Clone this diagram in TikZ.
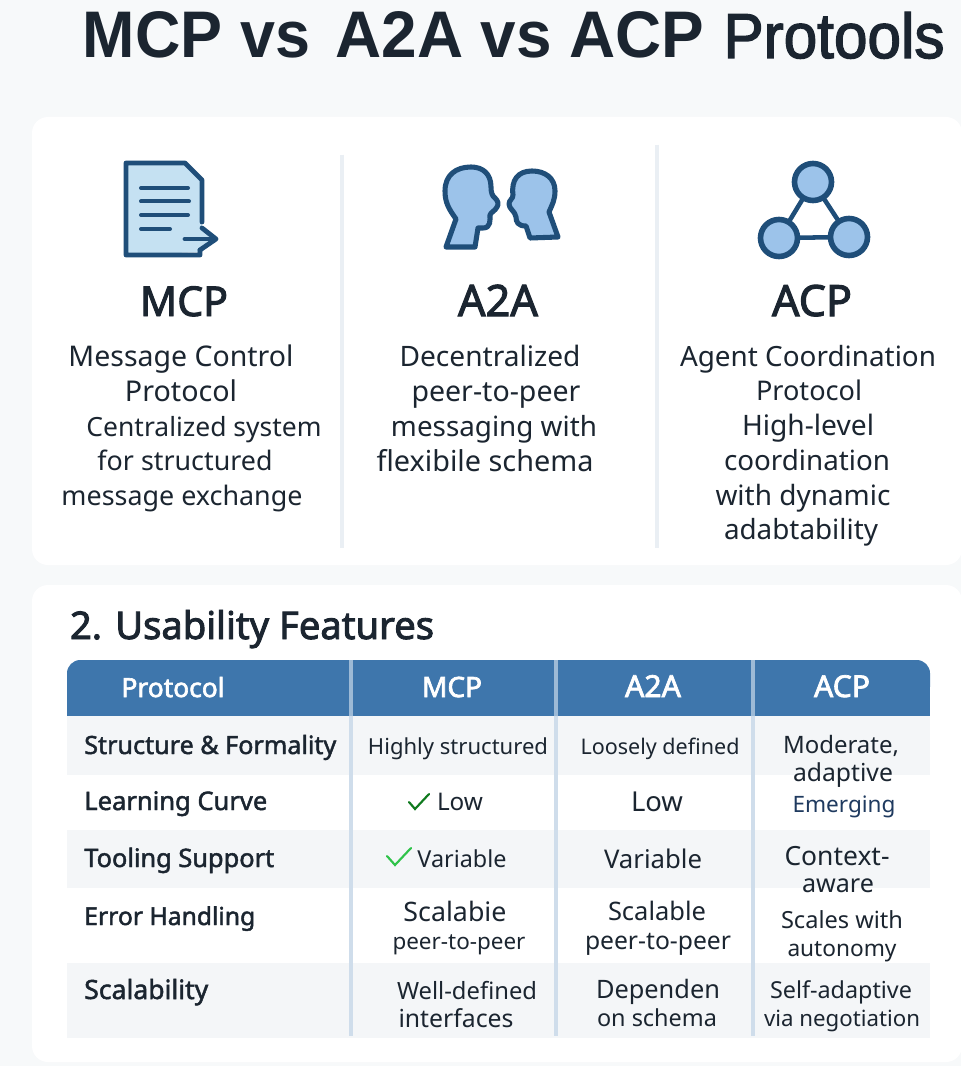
\documentclass[tikz,border=0pt]{standalone}
\usepackage{fontspec}
\usepackage{graphicx}
\setmainfont{Noto Sans}
\newfontfamily\heavyfont{Noto Sans}[FakeBold=2.4]
\newfontfamily\semifont{Noto Sans}[FakeBold=1.8]
\newfontfamily\titlefont{Liberation Sans}[BoldFont={Liberation Sans Bold}]
\newfontfamily\titlesemi{Liberation Sans}[FakeBold=2.2]
\definecolor{pagebg}{HTML}{F7F9FA}
\definecolor{ink}{HTML}{1B2530}
\definecolor{headblue}{HTML}{3E76AC}
\definecolor{rowgrey}{HTML}{F4F6F8}
\definecolor{sepblue}{HTML}{CFDDEB}
\definecolor{sephead}{HTML}{9DBAD6}
\definecolor{sepbody}{HTML}{EAEFF4}
\definecolor{iconline}{HTML}{1F4E79}
\definecolor{iconpale}{HTML}{C5E1F2}
\definecolor{iconfill}{HTML}{9CC3EA}
\definecolor{emerge}{HTML}{1F3A5F}
\definecolor{checkdark}{HTML}{0F7A1E}
\definecolor{checklight}{HTML}{2FC34A}
\tikzset{
  txt/.style={anchor=base,inner sep=0pt,text=ink},
  bld/.style={txt,font=\heavyfont},
  semi/.style={txt,anchor=base west,font=\semifont},
  hdr/.style={txt,font=\heavyfont,text=white},
  ttl/.style={txt,font=\titlefont\bfseries},
  card/.style={fill=white,rounded corners=12},
  iconstroke/.style={draw=iconline,line width=3.6pt,line join=round,line cap=round},
  tablesep/.style={draw=sepblue,line width=3pt},
  headsep/.style={draw=sephead,line width=3pt},
  bodysep/.style={draw=sepbody,line width=2.4pt},
  tick/.style={line width=1.6pt,line cap=round,line join=miter},
}
\newcommand{\tl}[6][]{\node[txt,#1] (#2) at (#3,#4) {\resizebox{\dimexpr #5pt*3/4\relax}{!}{#6}};}
\newcommand{\titlepart}[5][]{\node[ttl,#1] (#2) at (#3,58) {\resizebox{\dimexpr #4pt*3/4\relax}{34.5pt}{#5}};}
\begin{document}
\begin{tikzpicture}[x=0.75pt,y=-0.75pt]
\useasboundingbox (0,0) rectangle (961,1066);
\fill[pagebg] (0,0) rectangle (961,1066);
% cards
\fill[card] (32,117) rectangle (962,565);
\fill[card] (32,585) rectangle (962,1062);
% title
\titlepart{t1}{196.5}{227}{MCP vs}
\titlepart{t2}{520}{369}{A2A vs ACP}
\titlepart[font=\titlesemi]{t3}{834}{221}{Protools}
% separators in top card
\coordinate (s1a) at (342,155); \coordinate (s1b) at (342,548);
\coordinate (s2a) at (657,145); \coordinate (s2b) at (657,548);
\draw[bodysep] (s1a) -- (s1b);
\draw[bodysep] (s2a) -- (s2b);
% document icon
\fill[iconpale] (126,163) -- (185,163) -- (202,180) -- (202,228) -- (216,239) -- (200,252) -- (126,255) -- cycle;
\draw[iconstroke] (202,222) -- (202,180) -- (185,163) -- (126,163) -- (126,255) -- (200,255) -- (200,250);
\draw[iconstroke] (202,228) -- (216,239) -- (200,250);
\draw[iconstroke] (185,239) -- (214,239);
\draw[iconstroke,line width=3pt] (141,188) -- (188,188);
\draw[iconstroke,line width=3pt] (141,201.5) -- (189,201.5);
\draw[iconstroke,line width=3pt] (141,215) -- (188,215);
\draw[iconstroke,line width=3pt] (141,229) -- (170,229);
% heads
\draw[iconstroke,fill=iconfill,line width=3.8pt] (446,247) -- (456,219)
  .. controls (449,209) and (445,203) .. (445,191)
  .. controls (445,175) and (456,167) .. (471,167)
  .. controls (483,167) and (491,174) .. (491,187)
  .. controls (491,192) and (492,196) .. (495,198)
  .. controls (498,201) and (499,204) .. (497,207)
  .. controls (495,211) and (491,212) .. (490,215)
  .. controls (490,220) and (491,228) .. (483,228)
  -- (478,228) -- (475,247) -- cycle;
\draw[iconstroke,fill=iconfill,line width=3.8pt] (530,238) -- (526,226)
  .. controls (518,226) and (516,222) .. (516,217)
  .. controls (515,211) and (509,209) .. (509,204)
  .. controls (509,200) and (513,199) .. (513,195)
  .. controls (511,180) and (518,171) .. (532,171)
  .. controls (545,171) and (555,178) .. (555,191)
  .. controls (555,200) and (552,205) .. (549,212)
  -- (558,237) -- cycle;
% network
\coordinate (nt) at (813,182); \coordinate (nl) at (779,238); \coordinate (nr) at (849,237);
\draw[iconstroke,line width=3.4pt] (nt) -- (nl) -- (nr) -- cycle;
\foreach \c in {nt,nl,nr} \draw[draw=iconline,line width=4.2pt,fill=iconfill] (\c) circle (18.5);
% top card headings
\tl[bld]{h1}{184}{316}{88}{MCP}
\tl[bld]{h2}{498}{316}{80}{A2A}
\tl[bld]{h3}{812}{316}{80}{ACP}
% MCP text
\tl{m1}{181}{366}{225}{Message Control}
\tl{m2}{181}{401}{112}{Protocol}
\tl{m3}{204}{436}{235}{Centralized system}
\tl{m4}{185}{470}{175}{for structured}
\tl{m5}{182}{505}{241}{message exchange}
% A2A text
\tl{a1}{490}{366}{181}{Decentralized}
\tl{a2}{496}{401}{169}{peer-to-peer}
\tl{a3}{494}{436}{206}{messaging with}
\tl{a4}{485}{471}{217}{flexibile schema}
% ACP text
\tl{c1}{808}{366}{256}{Agent Coordination}
\tl{c2}{809}{400}{106}{Protocol}
\tl{c3}{808}{435}{132}{High-level}
\tl{c4}{807}{470}{166}{coordination}
\tl{c5}{803}{505}{175}{with dynamic}
\tl{c6}{801}{539}{154}{adabtability}
% section heading
\tl[bld]{sec}{252}{639}{364}{2. Usability Features}
% table
\fill[rowgrey] (67,716) rectangle (930,775);
\fill[rowgrey] (67,830) rectangle (930,888);
\fill[rowgrey] (67,963) rectangle (930,1038);
\fill[headblue,rounded corners=10] (67,660) rectangle (930,700);
\fill[headblue] (67,680) rectangle (930,716);
\foreach \x in {351,556,753} {
  \draw[tablesep] (\x,716) -- (\x,1036);
  \draw[headsep] (\x,660) -- (\x,716);
}
% header text
\tl[hdr]{th0}{173}{697}{103}{Protocol}
\tl[hdr]{th1}{452}{697}{60}{MCP}
\tl[hdr]{th2}{653}{697}{56}{A2A}
\tl[hdr]{th3}{842}{697}{56}{ACP}
% row labels
\node[semi] (r1) at (84,754) {\resizebox{\dimexpr 252pt*3/4\relax}{!}{Structure \& Formality}};
\node[semi] (r2) at (84,810) {\resizebox{\dimexpr 183pt*3/4\relax}{!}{Learning Curve}};
\node[semi] (r3) at (84,867) {\resizebox{\dimexpr 190pt*3/4\relax}{!}{Tooling Support}};
\node[semi] (r4) at (84,925) {\resizebox{\dimexpr 171pt*3/4\relax}{!}{Error Handling}};
\node[semi] (r5) at (84,999) {\resizebox{\dimexpr 124pt*3/4\relax}{!}{Scalability}};
% MCP col
\tl{d11}{458}{754}{180}{Highly structured}
\draw[tick,draw=checkdark] (409,802) -- (415,809) -- (429,794);
\tl{d12}{460}{810}{46}{Low}
\draw[tick,draw=checklight] (387,856) -- (395,865) -- (411,848);
\tl{d13}{462}{867}{89}{Variable}
\tl{d14}{455}{921}{103}{Scalabie}
\tl{d15}{459}{949}{133}{peer-to-peer}
\tl{d16}{467}{999}{140}{Well-defined}
\tl{d17}{456}{1027}{115}{interfaces}
% A2A col
\tl{e11}{660}{754}{159}{Loosely defined}
\tl{e12}{657}{811}{52}{Low}
\tl{e13}{653}{868}{98}{Variable}
\tl{e14}{657}{920}{98}{Scalable}
\tl{e15}{658}{949}{146}{peer-to-peer}
\tl{e16}{658}{998}{124}{Dependen}
\tl{e17}{657}{1026}{120}{on schema}
% ACP col
\tl{f11}{841}{753}{116}{Moderate,}
\tl{f12}{843}{781}{100}{adaptive}
\tl[text=emerge]{f13}{844}{812}{103}{Emerging}
\tl{f14}{837}{865}{105}{Context-}
\tl{f15}{838}{892}{72}{aware}
\tl{f16}{842}{928}{122}{Scales with}
\tl{f17}{842}{956}{109}{autonomy}
\tl{f18}{841}{998}{142}{Self-adaptive}
\tl{f19}{842}{1026}{156}{via negotiation}
\end{tikzpicture}
\end{document}
